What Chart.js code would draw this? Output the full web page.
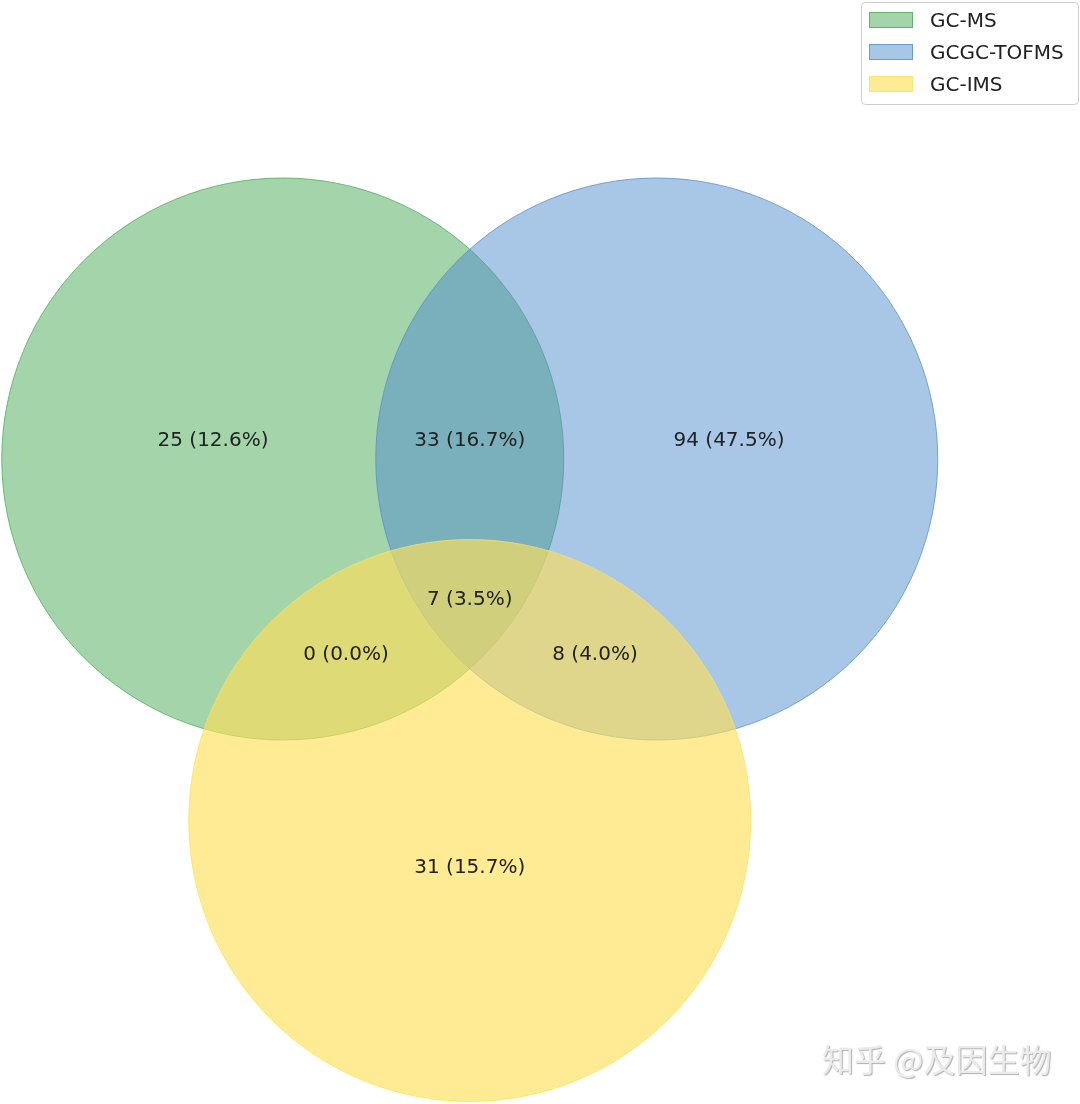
<!DOCTYPE html>
<html>
<head>
<meta charset="utf-8">
<script src="https://cdn.jsdelivr.net/npm/chart.js@4/dist/chart.umd.min.js"></script>
<style>
  html, body { margin: 0; padding: 0; background: #ffffff; }
  #wrap { width: 1080px; height: 1104px; position: relative; }
</style>
</head>
<body>
<div id="wrap"><canvas id="c"></canvas></div>
<script>
// ---- data ----
const setLabels = ['GC-MS', 'GCGC-TOFMS', 'GC-IMS'];
const setColors = ['rgb(73,169,85)', 'rgb(81,141,205)', 'rgb(253,224,90)'];
const setAlphas = [0.5, 0.5, 0.65];
// regions: A only, A∩B, B only, A∩B∩C, A∩C, B∩C, C only
const regionKeys = ['100', '110', '010', '111', '101', '011', '001'];
const regionCounts = [25, 33, 94, 7, 0, 8, 31];

// ---- layout (venn geometry in unit-radius coordinates) ----
const circleRadius = 1;
const circleCenters = [[-0.6655, 0], [0.6655, 0], [0, -1.2865]];
const regionLabelPos = {
  '100': [-0.9137, 0.0676], '110': [0, 0.0676], '010': [0.9226, 0.0676],
  '111': [0, -0.4982], '101': [-0.4404, -0.694], '011': [0.4457, -0.694],
  '001': [0, -1.452]
};

const total = regionCounts.reduce((a, b) => a + b, 0);
const withAlpha = (c, a) => c.replace('rgb(', 'rgba(').replace(')', ',' + a + ')');

const datasets = setLabels.map((lab, i) => ({
  label: lab,
  data: [{ x: circleCenters[i][0], y: circleCenters[i][1] }],
  backgroundColor: withAlpha(setColors[i], setAlphas[i]),
  borderColor: withAlpha(setColors[i], 0.75),
  borderWidth: 1,
  pointRadius: 0,
  pointHoverRadius: 0
}));

// draws each set as a circle around the library-positioned center point
const circlePlugin = {
  id: 'vennCircles',
  beforeDatasetsDraw(chart) {
    const { ctx, scales: { x } } = chart;
    const r = Math.abs(x.getPixelForValue(circleRadius) - x.getPixelForValue(0));
    ctx.save();
    chart.data.datasets.forEach((d, i) => {
      const el = chart.getDatasetMeta(i).data[0];
      ctx.beginPath();
      ctx.arc(el.x, el.y, r, 0, Math.PI * 2);
      ctx.fillStyle = d.backgroundColor;
      ctx.fill();
      ctx.strokeStyle = d.borderColor;
      ctx.lineWidth = d.borderWidth;
      ctx.stroke();
    });
    ctx.restore();
  }
};

const labelPlugin = {
  id: 'vennLabels',
  afterDatasetsDraw(chart) {
    const { ctx, scales: { x, y } } = chart;
    ctx.save();
    ctx.font = '20px "DejaVu Sans"';
    ctx.fillStyle = '#222222';
    ctx.textAlign = 'center';
    ctx.textBaseline = 'middle';
    regionKeys.forEach((k, i) => {
      const p = regionLabelPos[k];
      const pct = (regionCounts[i] / total * 100).toFixed(1);
      ctx.fillText(regionCounts[i] + ' (' + pct + '%)', x.getPixelForValue(p[0]), y.getPixelForValue(p[1]) + 1);
    });
    ctx.restore();
  }
};

const legendPlugin = {
  id: 'boxLegend',
  afterDraw(chart) {
    const { ctx } = chart;
    const ds = chart.data.datasets;
    const bx = 861, by = 2, bw = 217, bh = 102;
    ctx.save();
    ctx.beginPath();
    ctx.roundRect(bx + 0.5, by + 0.5, bw, bh, 4);
    ctx.fillStyle = 'rgba(255,255,255,0.8)';
    ctx.fill();
    ctx.strokeStyle = '#cccccc';
    ctx.lineWidth = 1;
    ctx.stroke();
    ctx.font = '20px "DejaVu Sans"';
    ctx.textBaseline = 'middle';
    ds.forEach((d, i) => {
      const cy = 20 + i * 32;
      ctx.fillStyle = d.backgroundColor;
      ctx.fillRect(869, cy - 8, 44, 16);
      ctx.strokeStyle = d.borderColor;
      ctx.strokeRect(869.5, cy - 7.5, 43, 15);
      ctx.fillStyle = '#222222';
      ctx.fillText(d.label, 930, cy + 2);
    });
    // watermark
    ctx.font = '32px "Noto Sans CJK SC"';
    ctx.textBaseline = 'middle';
    ctx.shadowColor = 'rgba(110,110,110,0.55)';
    ctx.shadowOffsetX = 1;
    ctx.shadowOffsetY = 1;
    ctx.shadowBlur = 1;
    ctx.fillStyle = '#ebebeb';
    ctx.fillText('知乎 @及因生物', 822, 1060);
    ctx.restore();
  }
};

new Chart(document.getElementById('c'), {
  type: 'scatter',
  data: { datasets },
  options: {
    responsive: true,
    maintainAspectRatio: false,
    animation: false,
    events: [],
    layout: { padding: 0 },
    plugins: { legend: { display: false }, tooltip: { enabled: false } },
    scales: {
      x: { type: 'linear', min: -1.67171, max: 2.17171, display: false },
      y: { type: 'linear', min: -2.29537, max: 1.63345, display: false }
    }
  },
  plugins: [circlePlugin, labelPlugin, legendPlugin]
});
</script>
</body>
</html>
